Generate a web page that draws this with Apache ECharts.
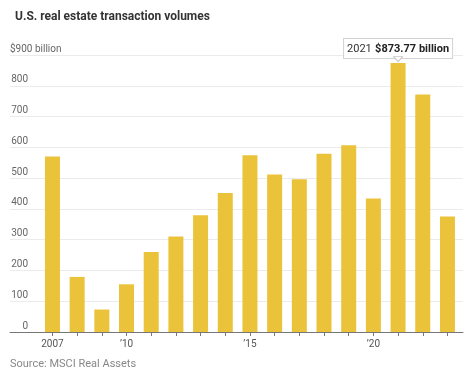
<!DOCTYPE html>
<html>
<head>
<meta charset="utf-8">
<script src="https://cdn.jsdelivr.net/npm/echarts@6/dist/echarts.min.js"></script>
<style>
  html, body { margin: 0; padding: 0; background: #fff; }
  #chart { width: 474px; height: 375px; }
</style>
</head>
<body>
<div id="chart"></div>
<script>
// 年份 & 交易额（十亿美元）
const years = [2007, 2008, 2009, 2010, 2011, 2012, 2013, 2014, 2015, 2016, 2017, 2018, 2019, 2020, 2021, 2022, 2023];
const volumes = [570, 179, 73, 155, 260, 310, 379, 452, 574, 512, 496, 579, 607, 434, 873.77, 772, 375];
const yTicks = [0, 100, 200, 300, 400, 500, 600, 700, 800, 900];
const labelYears = [2007, 2010, 2015, 2020];
const highlightYear = 2021;

const chart = echarts.init(document.getElementById('chart'));
const font = 'Roboto, "Noto Sans", sans-serif';
const hi = years.indexOf(highlightYear);

const barData = years.map((y, i) => {
  const item = { value: [y, volumes[i]] };
  if (i === hi) {
    item.label = {
      show: true,
      position: 'top',
      distance: 5,
      formatter: '{a|' + y + '} {b|$' + volumes[i].toFixed(2) + ' billion}',
      backgroundColor: '#fff',
      borderColor: '#d3d3d3',
      borderWidth: 1,
      padding: [4, 3, 3, 3],
      rich: {
        a: { fontSize: 11, color: '#333', fontFamily: font },
        b: { fontSize: 11, color: '#222', fontWeight: 'bold', fontFamily: font },
      },
    };
  }
  return item;
});

const option = {
  animation: false,
  title: {
    text: 'U.S. real estate transaction volumes',
    left: 10,
    top: 6,
    textStyle: { fontSize: 12, fontWeight: 'bold', color: '#333', fontFamily: font },
  },
  grid: { left: 10, right: 11, top: 55, bottom: 43 },
  xAxis: {
    type: 'value',
    min: 2005.28,
    max: 2023.63,
    splitLine: { show: false },
    axisLine: { lineStyle: { color: '#777', width: 1 } },
    axisTick: { show: true, customValues: years, length: 4, lineStyle: { color: '#777' } },
    axisLabel: {
      customValues: labelYears,
      margin: 7,
      fontSize: 10,
      color: '#555',
      fontFamily: font,
      formatter: (v) => (v === 2007 ? '2007' : '\u2019' + String(v).slice(2)),
    },
  },
  yAxis: {
    type: 'value',
    min: 0,
    max: 900,
    interval: 100,
    axisLine: { show: false },
    axisTick: { show: false },
    splitLine: { lineStyle: { color: '#ebebeb', width: 1 } },
    axisLabel: {
      inside: true,
      margin: 0,
      verticalAlign: 'bottom',
      padding: [0, 0, 1, 0],
      customValues: yTicks,
      formatter: (v) => (v === 900 ? '{t|$900 billion}' : '{n|' + v + '}'),
      rich: {
        n: { width: 18, align: 'right', fontSize: 10, color: '#666', fontFamily: font },
        t: { fontSize: 10, color: '#666', fontFamily: font },
      },
    },
  },
  series: [
    {
      type: 'bar',
      barWidth: 15,
      data: barData,
      itemStyle: { color: '#ebc33b' },
      markPoint: {
        silent: true,
        symbol: 'triangle',
        symbolRotate: 180,
        symbolSize: [9, 5],
        symbolOffset: [0, -4],
        itemStyle: { color: '#fff', borderColor: '#c8c8c8', borderWidth: 1 },
        label: { show: false },
        data: [{ coord: [highlightYear, volumes[hi]] }],
      },
    },
  ],
  graphic: [
    {
      type: 'text',
      left: 10,
      top: 359,
      style: { text: 'Source: MSCI Real Assets', fontSize: 11, fill: '#888', fontFamily: font },
    },
  ],
};

chart.setOption(option);
</script>
</body>
</html>
